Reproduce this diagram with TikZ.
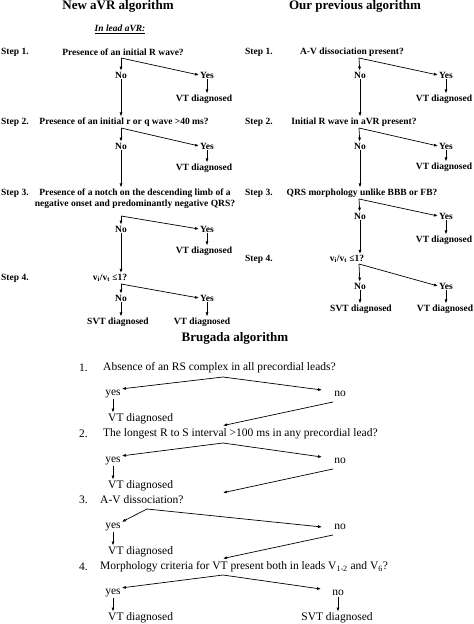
\documentclass[tikz,border=0pt]{standalone}
\usepackage{fontspec}
\setmainfont{Liberation Serif}
\usetikzlibrary{arrows.meta,calc}

\begin{document}
\begin{tikzpicture}[x=1pt,y=-1pt,>={Latex[length=4pt,width=3pt]}]
\tikzset{
  ttl/.style={font=\bfseries\fontsize{13}{15}\selectfont,inner sep=1pt},
  top/.style={font=\bfseries\fontsize{9.5}{11}\selectfont,inner sep=1pt},
  brg/.style={font=\fontsize{11.5}{13}\selectfont,inner sep=1pt},
  arr/.style={->,line width=.7pt}
}
\useasboundingbox (0,0) rectangle (474,624);

% New aVR algorithm
\node[ttl] (tA) at (118,6) {New aVR algorithm};
\node[top] (lead) at (120,29) {\itshape\underline{In lead aVR:}};
\node[top,anchor=west] (sA1) at (0,52) {Step 1.};
\node[top] (qA1) at (123,52) {Presence of an initial R wave?};
\node[top] (noA1) at (121,75) {No};
\node[top] (yesA1) at (207,75) {Yes};
\node[top] (vtA1) at (204,99) {VT diagnosed};
\node[top,anchor=west] (sA2) at (0,122) {Step 2.};
\node[top] (qA2) at (124,122) {Presence of an initial r or q wave >40 ms?};
\node[top] (noA2) at (121,146) {No};
\node[top] (yesA2) at (207,146) {Yes};
\node[top] (vtA2) at (204,168) {VT diagnosed};
\node[top,anchor=west] (sA3) at (0,193) {Step 3.};
\node[top,align=center] (qA3) at (135,198.5)
  {Presence of a notch on the descending limb of a\\negative onset and predominantly negative QRS?};
\node[top] (noA3) at (121,229) {No};
\node[top] (yesA3) at (207,229) {Yes};
\node[top] (vtA3) at (204,251) {VT diagnosed};
\node[top,anchor=west] (sA4) at (0,278) {Step 4.};
\node[top] (qA4) at (110,278) {v\textsubscript{i}/v\textsubscript{t} ≤1?};
\node[top] (noA4) at (121,298) {No};
\node[top] (yesA4) at (207,298) {Yes};
\node[top] (svtA4) at (118,322) {SVT diagnosed};
\node[top] (vtA4) at (202,322) {VT diagnosed};
\coordinate (bA1) at (121,58);
\coordinate (bA2) at (121,128);
\coordinate (bA3) at (121,216);
\coordinate (bA4) at (121,284);

% Our previous algorithm
\node[ttl] (tB) at (355,6) {Our previous algorithm};
\node[top,anchor=west] (sB1) at (244,52) {Step 1.};
\node[top] (qB1) at (352,52) {A-V dissociation present?};
\node[top] (noB1) at (360,75) {No};
\node[top] (yesB1) at (446,75) {Yes};
\node[top] (vtB1) at (444,99) {VT diagnosed};
\node[top,anchor=west] (sB2) at (244,122) {Step 2.};
\node[top] (qB2) at (354,122) {Initial R wave in aVR present?};
\node[top] (noB2) at (360,146) {No};
\node[top] (yesB2) at (446,146) {Yes};
\node[top] (vtB2) at (444,167) {VT diagnosed};
\node[top,anchor=west] (sB3) at (244,193) {Step 3.};
\node[top] (qB3) at (362,193) {QRS morphology unlike BBB or FB?};
\node[top] (noB3) at (360,216) {No};
\node[top] (yesB3) at (446,216) {Yes};
\node[top] (vtB3) at (444,240) {VT diagnosed};
\node[top,anchor=west] (sB4) at (244,259) {Step 4.};
\node[top] (qB4) at (347,259) {v\textsubscript{i}/v\textsubscript{t} ≤1?};
\node[top] (noB4) at (360,286) {No};
\node[top] (yesB4) at (446,286) {Yes};
\node[top] (svtB4) at (361,309) {SVT diagnosed};
\node[top] (vtB4) at (445,309) {VT diagnosed};
\coordinate (bB1) at (359,58);
\coordinate (bB2) at (359,128);
\coordinate (bB3) at (359,199);
\coordinate (bB4) at (359,264);

\foreach \s in {A1,A2,A3,A4,B1,B2,B3,B4}{
  \draw[arr] (b\s) -- (no\s);
  \draw[arr] (b\s) -- (yes\s.west);
  \draw[arr] (yes\s) -- (yes\s |- vt\s.north);
}
\foreach \s/\t in {A1/A2,A2/A3,A3/A4,B1/B2,B2/B3,B3/B4}
  \draw[arr] (no\s) -- (no\s |- q\t.north);
\draw[arr] (noA4) -- (noA4 |- svtA4.north);
\draw[arr] (noB4) -- (noB4 |- svtB4.north);

% Brugada algorithm
\node[ttl] (tC) at (235,338) {Brugada algorithm};
\node[brg,anchor=west] (nC1) at (78,368) {1.};
\node[brg,anchor=west] (qC1) at (102,368) {Absence of an RS complex in all precordial leads?};
\node[brg] (yesC1) at (113,394) {yes};
\node[brg] (noC1) at (340,394) {no};
\node[brg,anchor=west] (vtC1) at (107,419) {VT diagnosed};
\node[brg,anchor=west] (nC2) at (78,434) {2.};
\node[brg,anchor=west] (qC2) at (102,434) {The longest R to S interval >100 ms in any precordial lead?};
\node[brg] (yesC2) at (113,461) {yes};
\node[brg] (noC2) at (340,461) {no};
\node[brg,anchor=west] (vtC2) at (107,486) {VT diagnosed};
\node[brg,anchor=west] (nC3) at (78,500) {3.};
\node[brg,anchor=west] (qC3) at (99,500) {A-V dissociation?};
\node[brg] (yesC3) at (113,527) {yes};
\node[brg] (noC3) at (340,527) {no};
\node[brg,anchor=west] (vtC3) at (107,552) {VT diagnosed};
\node[brg,anchor=west] (nC4) at (78,567) {4.};
\node[brg,anchor=west] (qC4) at (99,567)
  {Morphology criteria for VT present both in leads V\textsubscript{1-2} and V\textsubscript{6}?};
\node[brg] (yesC4) at (113,593) {yes};
\node[brg] (noC4) at (338,593) {no};
\node[brg,anchor=west] (vtC4) at (107,618) {VT diagnosed};
\node[brg] (svtC4) at (337,618) {SVT diagnosed};
\coordinate (aC1) at (223,377);
\coordinate (aC2) at (223,443);
\coordinate (aC3) at (147,509);
\coordinate (aC4) at (223,575);

\foreach \s in {1,2,3,4}{
  \draw[arr] (aC\s) -- (yesC\s.north east);
  \draw[arr] (yesC\s) -- (yesC\s |- vtC\s.north);
}
\draw[arr] (aC1) -- ([xshift=-11pt]noC1.north west);
\draw[arr] (aC2) -- ([xshift=-11pt]noC2.north west);
\draw[arr] (aC3) -- ([xshift=-11pt]noC3.west);
\draw[arr] (aC4) -- ([xshift=-10pt]noC4.north west);
\foreach \s/\t in {1/2,2/3,3/4}
  \draw[arr] ([yshift=-4pt]noC\s.south west) -- ([yshift=2pt]aC1 |- qC\t.north);
\draw[arr] (noC4) -- (noC4 |- svtC4.north);
\end{tikzpicture}
\end{document}
